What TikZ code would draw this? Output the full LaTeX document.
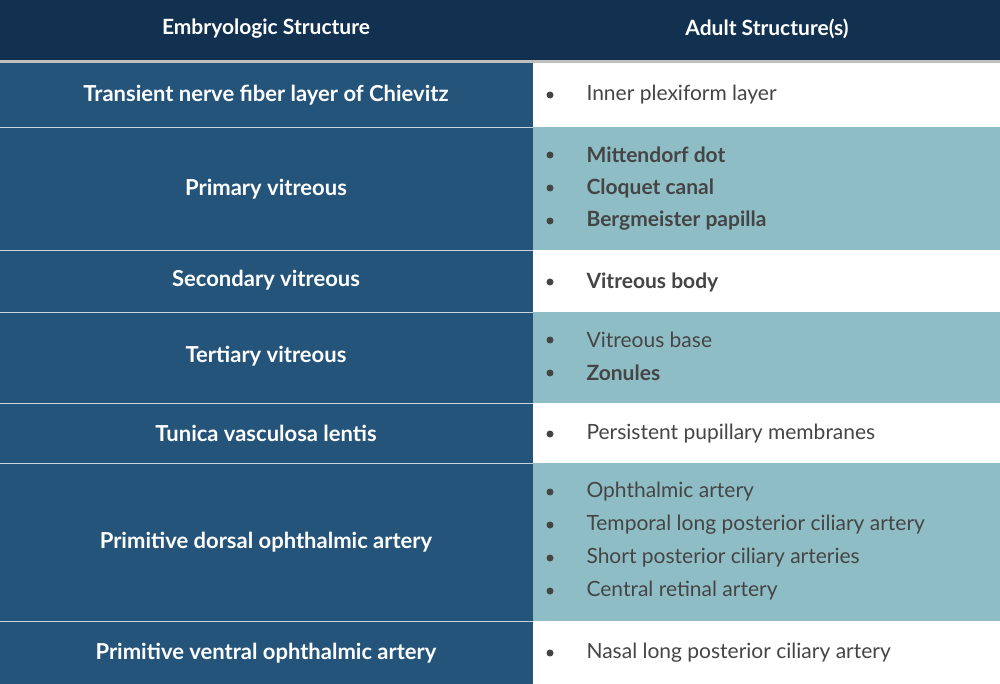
\documentclass[tikz,border=0pt]{standalone}
\usepackage{fontspec}
\setmainfont{Lato}
\definecolor{hdr}{HTML}{12304F}
\definecolor{leftc}{HTML}{25547B}
\definecolor{teal}{HTML}{8FBDC6}
\definecolor{txt}{HTML}{454545}
\begin{document}
\begin{tikzpicture}[x=1pt,y=-1pt,
  lefttext/.style={text=white,font=\fontsize{22}{26}\selectfont\bfseries,anchor=center},
  hdrtext/.style={text=white,font=\fontsize{21}{25}\selectfont\bfseries,anchor=center},
  item/.style={text=txt,font=\fontsize{21}{25}\selectfont,anchor=west},
  bitem/.style={item,font=\fontsize{21}{25}\selectfont\bfseries},
  dot/.style={circle,fill=txt,inner sep=0pt,minimum size=7pt}]
\useasboundingbox (0,0) rectangle (1000,684);
\fill[hdr] (0,0) rectangle (1000,60);
\fill[black!25] (0,60) rectangle (1000,63);
\fill[leftc] (0,63) rectangle (533,684);
\fill[white] (533,63) rectangle (1000,684);
\foreach \a/\b in {127/250,312/403,463/621} \fill[teal] (533,\a) rectangle (1000,\b);
\foreach \y in {127,250,312,403,463,621} \draw[white!75!leftc,line width=0.8pt] (0,\y) -- (533,\y);
\node[hdrtext] (h1) at (266,29) {Embryologic Structure};
\node[hdrtext] (h2) at (767,29) {Adult Structure(s)};
\node[lefttext] (l1) at (266,95) {Transient nerve fiber layer of Chievitz};
\node[lefttext] (l2) at (266,189) {Primary vitreous};
\node[lefttext] (l3) at (266,280) {Secondary vitreous};
\node[lefttext] (l4) at (266,356) {Tertiary vitreous};
\node[lefttext] (l5) at (266,433) {Tunica vasculosa lentis};
\node[lefttext] (l6) at (266,542) {Primitive dorsal ophthalmic artery};
\node[lefttext] (l7) at (266,653) {Primitive ventral ophthalmic artery};
\foreach \y/\t/\s in {95/Inner plexiform layer/item,
  155/Mittendorf dot/bitem,188/Cloquet canal/bitem,221/Bergmeister papilla/bitem,
  282/Vitreous body/bitem,
  340/Vitreous base/item,373/Zonules/bitem,
  434/Persistent pupillary membranes/item,
  492/Ophthalmic artery/item,525/Temporal long posterior ciliary artery/item,558/Short posterior ciliary arteries/item,591/Central retinal artery/item,
  653/Nasal long posterior ciliary artery/item}{
  \node[dot] at (550,\y) {};
  \node[\s] at (583,\y) {\t};
}
\end{tikzpicture}
\end{document}
